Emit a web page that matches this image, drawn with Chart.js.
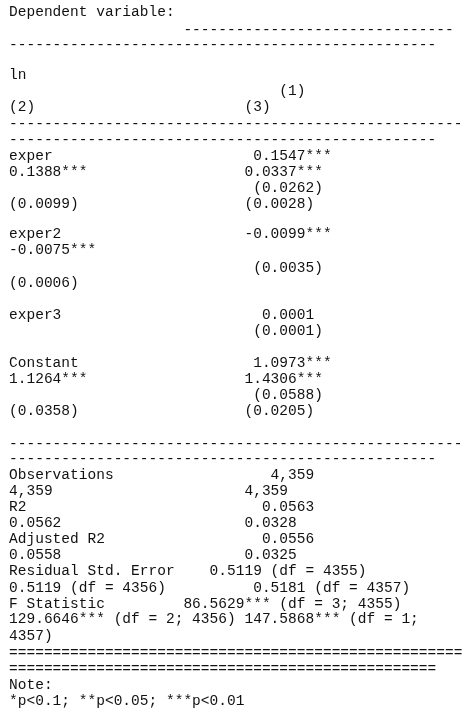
<!DOCTYPE html>
<html>
<head>
<meta charset="utf-8">
<script src="https://cdn.jsdelivr.net/npm/chart.js@4"></script>
<style>
  html, body { margin: 0; padding: 0; background: #fff; }
  canvas { display: block; }
</style>
</head>
<body>
<canvas id="tabla" width="474" height="712"></canvas>
<script>
// Texto de la tabla (una entrada por renglón visual) y su fila vertical
const lineas = [
    'Dependent variable:',
    ' '.repeat(20) + '-'.repeat(31),
    '-'.repeat(49),
    'ln',
    ' '.repeat(31) + '(1)',
    '(2)' + ' '.repeat(24) + '(3)',
    '-'.repeat(52),
    '-'.repeat(49),
    'exper' + ' '.repeat(23) + '0.1547***',
    '0.1388***' + ' '.repeat(18) + '0.0337***',
    ' '.repeat(28) + '(0.0262)',
    '(0.0099)' + ' '.repeat(19) + '(0.0028)',
    'exper2' + ' '.repeat(21) + '-0.0099***',
    '-0.0075***',
    ' '.repeat(28) + '(0.0035)',
    '(0.0006)',
    'exper3' + ' '.repeat(23) + '0.0001',
    ' '.repeat(28) + '(0.0001)',
    'Constant' + ' '.repeat(20) + '1.0973***',
    '1.1264***' + ' '.repeat(18) + '1.4306***',
    ' '.repeat(28) + '(0.0588)',
    '(0.0358)' + ' '.repeat(19) + '(0.0205)',
    '-'.repeat(52),
    '-'.repeat(49),
    'Observations' + ' '.repeat(18) + '4,359',
    '4,359' + ' '.repeat(22) + '4,359',
    'R2' + ' '.repeat(27) + '0.0563',
    '0.0562' + ' '.repeat(21) + '0.0328',
    'Adjusted R2' + ' '.repeat(18) + '0.0556',
    '0.0558' + ' '.repeat(21) + '0.0325',
    'Residual Std. Error    0.5119 (df = 4355)',
    '0.5119 (df = 4356)          0.5181 (df = 4357)',
    'F Statistic         86.5629*** (df = 3; 4355)',
    '129.6646*** (df = 2; 4356) 147.5868*** (df = 1;',
    '4357)',
    '='.repeat(52),
    '='.repeat(49),
    'Note:',
    '*p<0.1; **p<0.05; ***p<0.01'
];
const filas = [12, 30, 45, 75, 91, 107, 124, 140, 156, 172, 188, 204, 234, 250, 268, 283,
    315, 331, 363, 379, 395, 411, 444, 459, 475, 491, 507, 523, 539, 555, 571, 588, 604,
    619, 636, 653, 669, 685, 701];

const anchoCaracter = 8.72;
const margenIzq = 9;

// Plugin que escribe cada renglón usando las escalas del gráfico
const pluginTexto = {
    id: 'textoTabla',
    afterDraw(chart) {
        const ctx = chart.ctx;
        const sx = chart.scales.x;
        const sy = chart.scales.y;
        ctx.save();
        ctx.fillStyle = '#111';
        ctx.font = '14.5px "Liberation Mono", "DejaVu Sans Mono", monospace';
        ctx.textBaseline = 'middle';
        lineas.forEach(function (linea, i) {
            for (let c = 0; c < linea.length; c++) {
                if (linea[c] === ' ') continue;
                ctx.fillText(linea[c], sx.getPixelForValue(margenIzq + c * anchoCaracter), sy.getPixelForValue(filas[i]));
            }
        });
        ctx.restore();
    }
};

const chartTabla = new Chart(document.getElementById('tabla'), {
    type: 'scatter',
    data: { datasets: [] },
    options: {
        responsive: false,
        animation: false,
        layout: { padding: 0 },
        plugins: { legend: { display: false }, tooltip: { enabled: false } },
        scales: {
            x: { type: 'linear', min: 0, max: 474, display: false },
            y: { type: 'linear', min: 0, max: 712, reverse: true, display: false }
        }
    },
    plugins: [pluginTexto]
});
</script>
</body>
</html>
